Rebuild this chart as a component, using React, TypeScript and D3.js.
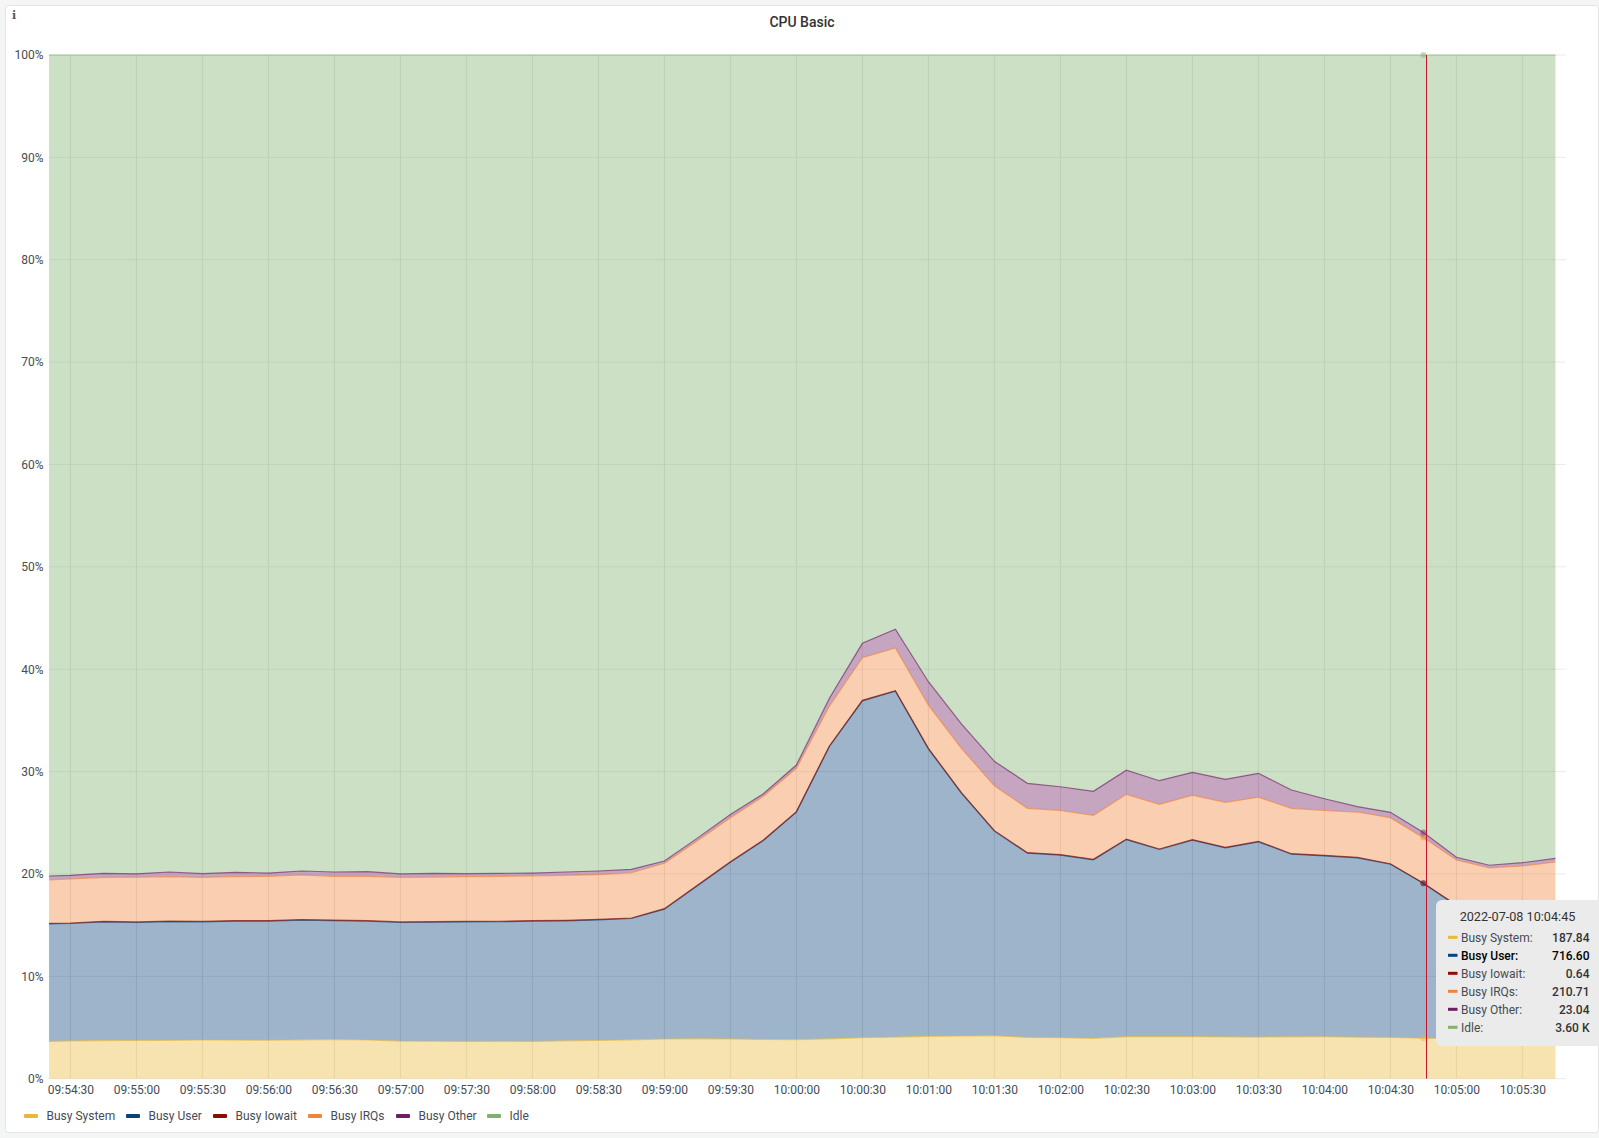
import { useEffect, useRef } from "react";
import * as d3 from "d3";

const sampleTimes = [
  "09:54:20.300", "09:54:30", "09:54:45", "09:55:00", "09:55:15", "09:55:30", "09:55:45", "09:56:00",
  "09:56:15", "09:56:30", "09:56:45", "09:57:00", "09:57:15", "09:57:30", "09:57:45", "09:58:00",
  "09:58:15", "09:58:30", "09:58:45", "09:59:00", "09:59:15", "09:59:30", "09:59:45", "10:00:00",
  "10:00:15", "10:00:30", "10:00:45", "10:01:00", "10:01:15", "10:01:30", "10:01:45", "10:02:00",
  "10:02:15", "10:02:30", "10:02:45", "10:03:00", "10:03:15", "10:03:30", "10:03:45", "10:04:00",
  "10:04:15", "10:04:30", "10:04:45", "10:05:00", "10:05:15", "10:05:30", "10:05:45",
];

// all in % of total cpu time
const busySystem = [
  3.64, 3.69, 3.72, 3.74, 3.75, 3.78, 3.77, 3.76, 3.8, 3.83, 3.78, 3.68, 3.66, 3.64, 3.65, 3.64,
  3.7, 3.73, 3.8, 3.88, 3.9, 3.89, 3.83, 3.82, 3.9, 4.0, 4.07, 4.14, 4.18, 4.2, 4.03, 4.0,
  3.94, 4.11, 4.11, 4.11, 4.08, 4.07, 4.09, 4.1, 4.06, 4.03, 3.96, 3.92, 3.9, 3.9, 3.9,
];
const busyUser = [
  11.49, 11.47, 11.6, 11.52, 11.6, 11.53, 11.63, 11.64, 11.7, 11.62, 11.61, 11.58, 11.63, 11.67, 11.68, 11.75,
  11.72, 11.79, 11.85, 12.68, 14.95, 17.26, 19.44, 22.22, 28.55, 32.91, 33.78, 28.08, 23.71, 19.98, 18.0, 17.84,
  17.44, 19.25, 18.28, 19.19, 18.47, 19.07, 17.84, 17.67, 17.51, 16.92, 15.13, 12.99, 11.85, 12.05, 12.35,
];
const busyIowait = [
  0.05, 0.05, 0.05, 0.05, 0.05, 0.05, 0.05, 0.05, 0.05, 0.05, 0.05, 0.05, 0.05, 0.05, 0.05, 0.05,
  0.05, 0.05, 0.05, 0.05, 0.05, 0.05, 0.05, 0.05, 0.05, 0.05, 0.05, 0.05, 0.05, 0.05, 0.05, 0.05,
  0.05, 0.05, 0.05, 0.05, 0.05, 0.05, 0.05, 0.05, 0.05, 0.05, 0.01, 0.05, 0.05, 0.05, 0.05,
];
const busyIrqs = [
  4.23, 4.3, 4.3, 4.37, 4.34, 4.31, 4.29, 4.32, 4.35, 4.27, 4.33, 4.36, 4.36, 4.38, 4.39, 4.36,
  4.4, 4.36, 4.42, 4.43, 4.35, 4.3, 4.28, 4.23, 3.9, 4.17, 4.17, 4.23, 4.33, 4.39, 4.33, 4.31,
  4.3, 4.37, 4.36, 4.35, 4.4, 4.31, 4.43, 4.38, 4.43, 4.5, 4.45, 4.4, 4.8, 4.78, 4.87,
];
const busyOther = [
  0.39, 0.36, 0.39, 0.33, 0.45, 0.36, 0.42, 0.32, 0.39, 0.42, 0.45, 0.33, 0.36, 0.29, 0.29, 0.29,
  0.32, 0.36, 0.33, 0.23, 0.25, 0.3, 0.24, 0.32, 0.76, 1.4, 1.83, 2.28, 2.38, 2.38, 2.44, 2.32,
  2.34, 2.35, 2.31, 2.23, 2.25, 2.33, 1.79, 1.15, 0.52, 0.52, 0.49, 0.27, 0.25, 0.32, 0.36,
];
const idle = [
  80.2, 80.13, 79.94, 79.99, 79.81, 79.97, 79.84, 79.91, 79.71, 79.81, 79.78, 80.0, 79.94, 79.97, 79.94, 79.91,
  79.81, 79.71, 79.55, 78.73, 76.5, 74.2, 72.16, 69.36, 62.84, 57.47, 56.1, 61.22, 65.35, 69.0, 71.15, 71.48,
  71.93, 69.87, 70.89, 70.07, 70.75, 70.17, 71.8, 72.65, 73.43, 73.98, 75.96, 78.37, 79.15, 78.9, 78.47,
];

const seriesNames = ["Busy System", "Busy User", "Busy Iowait", "Busy IRQs", "Busy Other", "Idle"];
const seriesValues = [busySystem, busyUser, busyIowait, busyIrqs, busyOther, idle];
const seriesColors = ["#EAB839", "#0A437C", "#890F02", "#EF843C", "#6D1F62", "#7EB26D"];

const xTickLabels = [
  "09:54:30", "09:55:00", "09:55:30", "09:56:00", "09:56:30", "09:57:00", "09:57:30", "09:58:00",
  "09:58:30", "09:59:00", "09:59:30", "10:00:00", "10:00:30", "10:01:00", "10:01:30", "10:02:00",
  "10:02:30", "10:03:00", "10:03:30", "10:04:00", "10:04:30", "10:05:00", "10:05:30",
];
const yTicks = [0, 0.1, 0.2, 0.3, 0.4, 0.5, 0.6, 0.7, 0.8, 0.9, 1];

const tooltipTitle = "2022-07-08 10:04:45";
const hoverTime = "10:04:45";
const tooltipValues = ["187.84", "716.60", "0.64", "210.71", "23.04", "3.60 K"];

const width = 1599;
const height = 1138;
const marginLeft = 49;
const gridRight = 1566;
const plotTop = 55;
const plotBottom = 1078.7;
const legendSwatchX = [24, 126, 213, 308, 396, 487];
const textColor = "#464c54";
const fontFamily = "Roboto, sans-serif";

const parseTime = d3.timeParse("%H:%M:%S");
const parseTimeMs = d3.timeParse("%H:%M:%S.%L");
const toDate = (s: string) => (parseTime(s) ?? parseTimeMs(s)) as Date;

export default function App() {
  const ref = useRef<SVGSVGElement>(null);

  useEffect(() => {
    const svg = d3.select(ref.current);
    svg.selectAll("*").remove();
    svg.attr("font-family", fontFamily);

    const x = d3
      .scaleTime()
      .domain([toDate("09:54:30"), toDate("10:05:30")])
      .range([70.4, 1522.4]);
    const y = d3.scaleLinear().domain([0, 1]).range([plotBottom, plotTop]);

    const rows = sampleTimes.map((t, i) => {
      const row: any = { time: toDate(t) };
      seriesNames.forEach((name, s) => (row[name] = seriesValues[s][i]));
      return row;
    });
    const stacked = d3.stack().keys(seriesNames).offset(d3.stackOffsetExpand)(rows);

    svg.append("rect").attr("width", width).attr("height", height).attr("fill", "#f4f5f5");
    svg
      .append("rect")
      .attr("x", 5.5)
      .attr("y", 5.5)
      .attr("width", 1593)
      .attr("height", 1127)
      .attr("rx", 3)
      .attr("fill", "#fff")
      .attr("stroke", "#e4e4e4");

    svg
      .append("text")
      .attr("x", 802)
      .attr("y", 26.5)
      .attr("text-anchor", "middle")
      .attr("font-size", 14)
      .attr("font-weight", 500)
      .attr("fill", "#333")
      .text("CPU Basic");
    svg
      .append("text")
      .attr("x", 14)
      .attr("y", 19)
      .attr("text-anchor", "middle")
      .attr("font-family", "DejaVu Serif")
      .attr("font-weight", 700)
      .attr("font-size", 11)
      .attr("fill", "#555")
      .text("i");

    // grid
    svg
      .append("g")
      .selectAll("line")
      .data(yTicks)
      .join("line")
      .attr("x1", marginLeft)
      .attr("x2", gridRight)
      .attr("y1", (d) => y(d))
      .attr("y2", (d) => y(d))
      .attr("stroke", "#ebebeb");
    svg
      .append("g")
      .selectAll("line")
      .data(xTickLabels)
      .join("line")
      .attr("x1", (d) => x(toDate(d)))
      .attr("x2", (d) => x(toDate(d)))
      .attr("y1", plotTop)
      .attr("y2", plotBottom)
      .attr("stroke", "#e4e4e4");

    // stacked bands
    const area = d3
      .area<any>()
      .x((d) => x(d.data.time))
      .y0((d) => y(d[0]))
      .y1((d) => y(d[1]));
    const topLine = d3
      .line<any>()
      .x((d) => x(d.data.time))
      .y((d) => y(d[1]));

    svg
      .append("g")
      .selectAll("path")
      .data(stacked)
      .join("path")
      .attr("d", (d) => area(d as any))
      .attr("fill", (_, i) => seriesColors[i])
      .attr("fill-opacity", 0.4);
    svg
      .append("g")
      .selectAll("path")
      .data(stacked)
      .join("path")
      .attr("d", (d) => topLine(d as any))
      .attr("fill", "none")
      .attr("stroke", (_, i) => seriesColors[i])
      .attr("stroke-opacity", 0.65)
      .attr("stroke-width", 1.2);

    // axes
    const xAxis = d3
      .axisBottom(x)
      .tickValues(xTickLabels.map(toDate))
      .tickFormat(d3.timeFormat("%H:%M:%S") as any)
      .tickSize(0)
      .tickPadding(7);
    const yAxis = d3
      .axisLeft(y)
      .tickValues(yTicks)
      .tickFormat(d3.format(".0%") as any)
      .tickSize(0)
      .tickPadding(5.5);
    [
      svg.append("g").attr("transform", `translate(0,${plotBottom})`).call(xAxis),
      svg.append("g").attr("transform", `translate(${marginLeft},0)`).call(yAxis),
    ].forEach((g: any) => {
      g.select(".domain").remove();
      g.attr("font-family", fontFamily).attr("font-size", 12);
      g.selectAll("text").attr("fill", textColor);
    });

    // hover state
    const hoverIndex = sampleTimes.indexOf(hoverTime);
    svg
      .append("g")
      .selectAll("circle")
      .data(stacked)
      .join("circle")
      .attr("cx", x(toDate(hoverTime)))
      .attr("cy", (d) => y(d[hoverIndex][1]))
      .attr("r", 3)
      .attr("fill", (_, i) => seriesColors[i])
      .attr("fill-opacity", 0.45);
    svg
      .append("line")
      .attr("x1", 1426.5)
      .attr("x2", 1426.5)
      .attr("y1", plotTop)
      .attr("y2", plotBottom)
      .attr("stroke", "#c4162a");

    // legend
    const legend = svg
      .append("g")
      .selectAll("g")
      .data(seriesNames)
      .join("g")
      .attr("transform", (_, i) => `translate(${legendSwatchX[i]},1116)`);
    legend
      .append("rect")
      .attr("y", -2)
      .attr("width", 14)
      .attr("height", 4)
      .attr("rx", 1)
      .attr("fill", (_, i) => seriesColors[i]);
    legend
      .append("text")
      .attr("x", 22.5)
      .attr("dy", "0.35em")
      .attr("font-size", 12)
      .attr("fill", textColor)
      .text((d) => d);

    // tooltip
    const tip = svg.append("g");
    tip
      .append("rect")
      .attr("x", 1436)
      .attr("y", 900)
      .attr("width", 170)
      .attr("height", 146)
      .attr("rx", 6)
      .attr("fill", "#ebebeb");
    tip
      .append("text")
      .attr("x", 1517.5)
      .attr("y", 916.7)
      .attr("dy", "0.35em")
      .attr("text-anchor", "middle")
      .attr("font-size", 12.65)
      .attr("fill", "#333")
      .text(tooltipTitle);
    const tipRow = tip
      .selectAll("g")
      .data(seriesNames)
      .join("g")
      .attr("transform", (_, i) => `translate(0,${937.3 + i * 18})`);
    tipRow
      .append("rect")
      .attr("x", 1448)
      .attr("y", -1.5)
      .attr("width", 9.5)
      .attr("height", 3)
      .attr("fill", (_, i) => seriesColors[i]);
    tipRow
      .append("text")
      .attr("x", 1461)
      .attr("dy", "0.35em")
      .attr("font-size", 12)
      .attr("font-weight", (_, i) => (i === 1 ? 500 : 400))
      .attr("fill", (_, i) => (i === 1 ? "#000" : textColor))
      .text((d) => `${d}:`);
    tipRow
      .append("text")
      .attr("x", 1589.5)
      .attr("dy", "0.35em")
      .attr("text-anchor", "end")
      .attr("font-size", 12)
      .attr("font-weight", 500)
      .attr("fill", (_, i) => (i === 1 ? "#000" : "#333"))
      .text((_, i) => tooltipValues[i]);
  }, []);

  return (
    <svg
      ref={ref}
      width={width}
      height={height}
      style={{ position: "fixed", left: 0, top: 0, display: "block" }}
    />
  );
}
